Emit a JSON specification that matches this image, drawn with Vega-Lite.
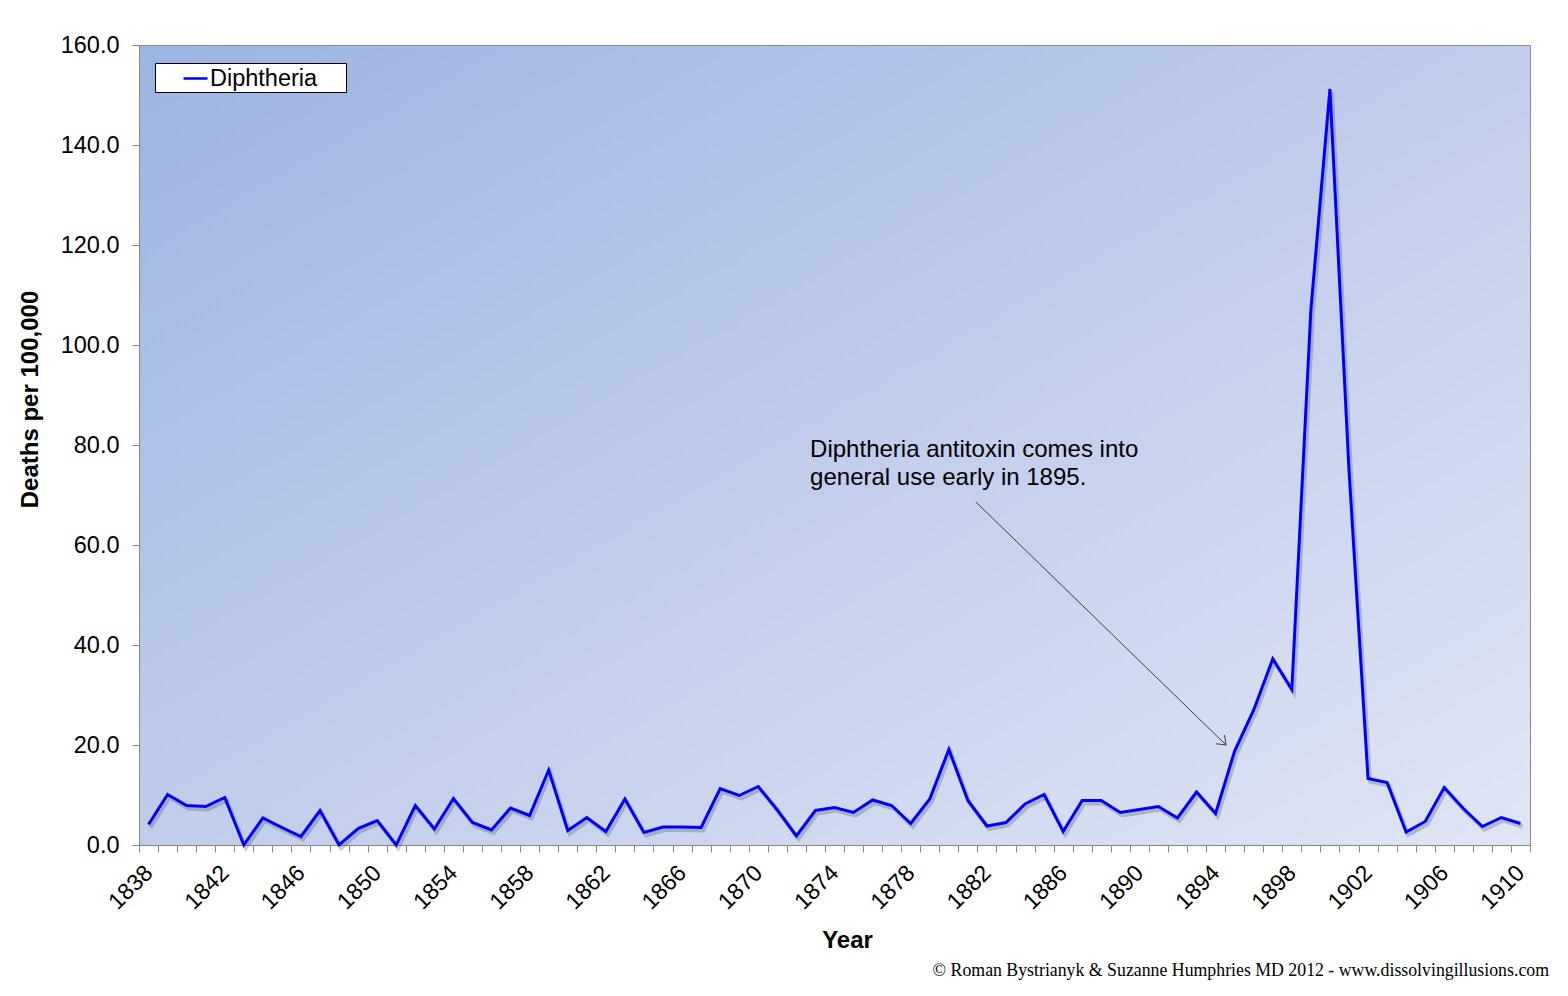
{
  "$schema": "https://vega.github.io/schema/vega-lite/v6.json",
  "width": 1391,
  "height": 800,
  "autosize": {"type": "none"},
  "padding": {"left": 139, "top": 45, "right": 38, "bottom": 151},
  "background": "white",
  "config": {
    "font": "Liberation Sans",
    "view": {
      "stroke": "#8c8c8c",
      "strokeWidth": 1,
      "fill": {
        "gradient": "linear",
        "x1": 0, "y1": 0, "x2": 1, "y2": 1,
        "stops": [
          {"offset": 0, "color": "#9cb4e2"},
          {"offset": 0.5, "color": "#c0cdeb"},
          {"offset": 1, "color": "#dfe5f3"}
        ]
      }
    },
    "legend": {
      "orient": "none",
      "legendX": 16,
      "legendY": 18,
      "fillColor": "white",
      "strokeColor": "black",
      "strokeWidth": 1,
      "padding": 2,
      "symbolType": "stroke",
      "symbolSize": 576,
      "symbolStrokeWidth": 2.5,
      "symbolOffset": 25,
      "labelOffset": 1,
      "labelFontSize": 23.5,
      "labelColor": "black",
      "labelFont": "Liberation Sans"
    }
  },
  "data": {
    "values": [
      {"year": 1838, "deaths": 4.1, "series": "Diphtheria"},
      {"year": 1839, "deaths": 10.1, "series": "Diphtheria"},
      {"year": 1840, "deaths": 7.9, "series": "Diphtheria"},
      {"year": 1841, "deaths": 7.7, "series": "Diphtheria"},
      {"year": 1842, "deaths": 9.5, "series": "Diphtheria"},
      {"year": 1843, "deaths": 0.0, "series": "Diphtheria"},
      {"year": 1844, "deaths": 5.4, "series": "Diphtheria"},
      {"year": 1845, "deaths": 3.5, "series": "Diphtheria"},
      {"year": 1846, "deaths": 1.7, "series": "Diphtheria"},
      {"year": 1847, "deaths": 6.9, "series": "Diphtheria"},
      {"year": 1848, "deaths": 0.0, "series": "Diphtheria"},
      {"year": 1849, "deaths": 3.3, "series": "Diphtheria"},
      {"year": 1850, "deaths": 4.9, "series": "Diphtheria"},
      {"year": 1851, "deaths": 0.0, "series": "Diphtheria"},
      {"year": 1852, "deaths": 7.9, "series": "Diphtheria"},
      {"year": 1853, "deaths": 3.2, "series": "Diphtheria"},
      {"year": 1854, "deaths": 9.3, "series": "Diphtheria"},
      {"year": 1855, "deaths": 4.5, "series": "Diphtheria"},
      {"year": 1856, "deaths": 3.0, "series": "Diphtheria"},
      {"year": 1857, "deaths": 7.4, "series": "Diphtheria"},
      {"year": 1858, "deaths": 5.9, "series": "Diphtheria"},
      {"year": 1859, "deaths": 15.0, "series": "Diphtheria"},
      {"year": 1860, "deaths": 2.9, "series": "Diphtheria"},
      {"year": 1861, "deaths": 5.5, "series": "Diphtheria"},
      {"year": 1862, "deaths": 2.7, "series": "Diphtheria"},
      {"year": 1863, "deaths": 9.2, "series": "Diphtheria"},
      {"year": 1864, "deaths": 2.5, "series": "Diphtheria"},
      {"year": 1865, "deaths": 3.6, "series": "Diphtheria"},
      {"year": 1866, "deaths": 3.6, "series": "Diphtheria"},
      {"year": 1867, "deaths": 3.5, "series": "Diphtheria"},
      {"year": 1868, "deaths": 11.3, "series": "Diphtheria"},
      {"year": 1869, "deaths": 9.9, "series": "Diphtheria"},
      {"year": 1870, "deaths": 11.7, "series": "Diphtheria"},
      {"year": 1871, "deaths": 7.0, "series": "Diphtheria"},
      {"year": 1872, "deaths": 1.8, "series": "Diphtheria"},
      {"year": 1873, "deaths": 6.9, "series": "Diphtheria"},
      {"year": 1874, "deaths": 7.5, "series": "Diphtheria"},
      {"year": 1875, "deaths": 6.5, "series": "Diphtheria"},
      {"year": 1876, "deaths": 9.0, "series": "Diphtheria"},
      {"year": 1877, "deaths": 7.9, "series": "Diphtheria"},
      {"year": 1878, "deaths": 4.3, "series": "Diphtheria"},
      {"year": 1879, "deaths": 9.2, "series": "Diphtheria"},
      {"year": 1880, "deaths": 19.1, "series": "Diphtheria"},
      {"year": 1881, "deaths": 8.9, "series": "Diphtheria"},
      {"year": 1882, "deaths": 3.8, "series": "Diphtheria"},
      {"year": 1883, "deaths": 4.5, "series": "Diphtheria"},
      {"year": 1884, "deaths": 8.2, "series": "Diphtheria"},
      {"year": 1885, "deaths": 10.1, "series": "Diphtheria"},
      {"year": 1886, "deaths": 2.7, "series": "Diphtheria"},
      {"year": 1887, "deaths": 8.9, "series": "Diphtheria"},
      {"year": 1888, "deaths": 8.9, "series": "Diphtheria"},
      {"year": 1889, "deaths": 6.5, "series": "Diphtheria"},
      {"year": 1890, "deaths": 7.1, "series": "Diphtheria"},
      {"year": 1891, "deaths": 7.7, "series": "Diphtheria"},
      {"year": 1892, "deaths": 5.4, "series": "Diphtheria"},
      {"year": 1893, "deaths": 10.6, "series": "Diphtheria"},
      {"year": 1894, "deaths": 6.3, "series": "Diphtheria"},
      {"year": 1895, "deaths": 18.8, "series": "Diphtheria"},
      {"year": 1896, "deaths": 27.0, "series": "Diphtheria"},
      {"year": 1897, "deaths": 37.2, "series": "Diphtheria"},
      {"year": 1898, "deaths": 31.1, "series": "Diphtheria"},
      {"year": 1899, "deaths": 107.0, "series": "Diphtheria"},
      {"year": 1900, "deaths": 151.2, "series": "Diphtheria"},
      {"year": 1901, "deaths": 75.0, "series": "Diphtheria"},
      {"year": 1902, "deaths": 13.3, "series": "Diphtheria"},
      {"year": 1903, "deaths": 12.5, "series": "Diphtheria"},
      {"year": 1904, "deaths": 2.6, "series": "Diphtheria"},
      {"year": 1905, "deaths": 4.7, "series": "Diphtheria"},
      {"year": 1906, "deaths": 11.5, "series": "Diphtheria"},
      {"year": 1907, "deaths": 7.3, "series": "Diphtheria"},
      {"year": 1908, "deaths": 3.7, "series": "Diphtheria"},
      {"year": 1909, "deaths": 5.5, "series": "Diphtheria"},
      {"year": 1910, "deaths": 4.3, "series": "Diphtheria"}
    ]
  },
  "title": {
    "text": "© Roman Bystrianyk & Suzanne Humphries MD 2012 - www.dissolvingillusions.com",
    "orient": "bottom",
    "anchor": "end",
    "frame": "group",
    "font": "Liberation Serif",
    "fontSize": 17.8,
    "fontWeight": "normal",
    "color": "black",
    "dx": 19,
    "offset": 10
  },
  "encoding": {
    "y": {
      "field": "deaths",
      "type": "quantitative",
      "scale": {"domain": [0, 160], "nice": false},
      "axis": {
        "values": [0, 20, 40, 60, 80, 100, 120, 140, 160],
        "format": ".1f",
        "labelFontSize": 23.5,
        "labelColor": "black",
        "labelPadding": 13,
        "tickSize": 7,
        "tickColor": "#868686",
        "domainColor": "#868686",
        "grid": false,
        "title": "Deaths per 100,000",
        "titleFontSize": 24,
        "titleFontWeight": "bold",
        "titleColor": "black",
        "titleAngle": -90,
        "titleX": -109,
        "titleY": 354,
        "titleAlign": "center",
        "titleBaseline": "middle"
      }
    }
  },
  "layer": [
    {
      "mark": {"type": "line", "color": "#3d4a66", "opacity": 0.28, "strokeWidth": 4, "xOffset": 2, "yOffset": 3},
      "encoding": {
        "x": {
          "field": "year",
          "type": "quantitative",
          "scale": {"domain": [1837.5, 1910.5], "nice": false, "zero": false},
          "axis": {
            "orient": "bottom",
            "values": [1838, 1842, 1846, 1850, 1854, 1858, 1862, 1866, 1870, 1874, 1878, 1882, 1886, 1890, 1894, 1898, 1902, 1906, 1910],
            "format": "d",
            "labelAngle": -45,
            "labelAlign": "right",
            "labelBaseline": "middle",
            "labelFontSize": 23,
            "labelColor": "black",
            "labelPadding": 24,
            "labelOverlap": false,
            "labelFlush": false,
            "ticks": false,
            "domain": true,
            "domainColor": "#868686",
            "grid": false,
            "title": "Year",
            "titleFontSize": 24,
            "titleFontWeight": "bold",
            "titleColor": "black",
            "titleX": 708,
            "titleY": 95,
            "titleAlign": "center",
            "titleBaseline": "middle"
          }
        }
      }
    },
    {
      "mark": {"type": "line", "strokeWidth": 3},
      "encoding": {
        "x": {
          "field": "year",
          "type": "quantitative",
          "scale": {"domain": [1837.5, 1910.5], "nice": false, "zero": false},
          "axis": {
            "orient": "bottom",
            "values": [1837.5, 1838.5, 1839.5, 1840.5, 1841.5, 1842.5, 1843.5, 1844.5, 1845.5, 1846.5, 1847.5, 1848.5, 1849.5, 1850.5, 1851.5, 1852.5, 1853.5, 1854.5, 1855.5, 1856.5, 1857.5, 1858.5, 1859.5, 1860.5, 1861.5, 1862.5, 1863.5, 1864.5, 1865.5, 1866.5, 1867.5, 1868.5, 1869.5, 1870.5, 1871.5, 1872.5, 1873.5, 1874.5, 1875.5, 1876.5, 1877.5, 1878.5, 1879.5, 1880.5, 1881.5, 1882.5, 1883.5, 1884.5, 1885.5, 1886.5, 1887.5, 1888.5, 1889.5, 1890.5, 1891.5, 1892.5, 1893.5, 1894.5, 1895.5, 1896.5, 1897.5, 1898.5, 1899.5, 1900.5, 1901.5, 1902.5, 1903.5, 1904.5, 1905.5, 1906.5, 1907.5, 1908.5, 1909.5, 1910.5],
            "labels": false,
            "domain": false,
            "tickSize": 7,
            "tickColor": "#868686",
            "grid": false,
            "title": null
          }
        },
        "color": {
          "field": "series",
          "type": "nominal",
          "scale": {"range": ["#0000ff"]},
          "legend": {"title": null, "labelExpr": "datum.label + '\u00a0\u00a0\u00a0\u00a0\u200b'"}
        }
      }
    },
    {
      "data": {"values": [{"year": 1872.72, "deaths": 77.6, "note": "Diphtheria antitoxin comes into\ngeneral use early in 1895."}]},
      "mark": {"type": "text", "align": "left", "baseline": "alphabetic", "lineBreak": "\n", "lineHeight": 28, "fontSize": 24, "color": "black"},
      "encoding": {
        "x": {"field": "year", "type": "quantitative", "axis": null},
        "text": {"field": "note"}
      }
    },
    {
      "data": {"values": [{"year": 1881.42, "deaths": 68.6, "yearEnd": 1894.55, "deathsEnd": 20.0}]},
      "mark": {"type": "rule", "color": "#3a3a3a", "strokeWidth": 1},
      "encoding": {
        "x": {"field": "year", "type": "quantitative", "axis": null},
        "x2": {"field": "yearEnd"},
        "y2": {"field": "deathsEnd"}
      }
    },
    {
      "data": {"values": [{"year": 1894.55, "deaths": 20.0}]},
      "mark": {"type": "point", "shape": "M -1 -0.75 L 0 0 L -1 0.75", "filled": false, "stroke": "#3a3a3a", "strokeWidth": 1, "size": 260, "angle": 44, "opacity": 1},
      "encoding": {
        "x": {"field": "year", "type": "quantitative", "axis": null}
      }
    }
  ],
  "resolve": {"axis": {"x": "independent"}}
}
